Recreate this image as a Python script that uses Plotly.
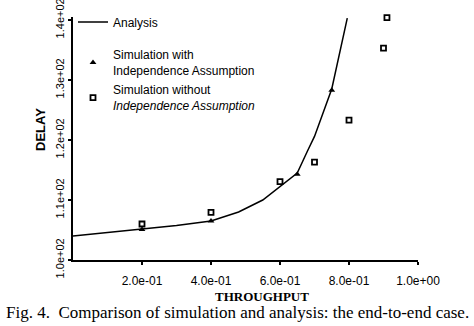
import plotly.graph_objects as go

# ---- data ----
analysis_x = [0.0, 0.1, 0.2, 0.3, 0.4, 0.48, 0.55, 0.6, 0.65, 0.68, 0.70, 0.75, 0.77, 0.795]
analysis_y = [104.0, 104.55, 105.1, 105.75, 106.5, 108.0, 110.0, 112.3, 114.5, 118.2, 120.6, 128.5, 133.5, 140.3]

indep_x = [0.2, 0.4, 0.65, 0.75]
indep_y = [105.1, 106.5, 114.3, 128.3]

noindep_x = [0.2, 0.4, 0.6, 0.7, 0.8, 0.9, 0.91]
noindep_y = [106.0, 107.95, 113.05, 116.3, 123.3, 135.3, 140.4]

x_tickvals = [0.2, 0.4, 0.6, 0.8, 1.0]
x_ticktext = ["2.0e-01", "4.0e-01", "6.0e-01", "8.0e-01", "1.0e+00"]
y_tickvals = [100, 110, 120, 130, 140]
y_ticktext = ["1.0e+02", "1.1e+02", "1.2e+02", "1.3e+02", "1.4e+02"]

legend_names = [
    "Analysis",
    "Simulation with<br>Independence Assumption",
    "Simulation without<br><i>Independence Assumption</i>",
]

W, H = 474, 326
L, R, T, B = 73, 56, 17, 66
YMAX = 140.5

fig = go.Figure()
fig.add_trace(go.Scatter(x=analysis_x, y=analysis_y, mode="lines",
                         line=dict(color="black", width=1.5),
                         name=legend_names[0], legend="legend", cliponaxis=False))
fig.add_trace(go.Scatter(x=indep_x, y=indep_y, mode="markers",
                         marker=dict(symbol="triangle-up", size=6, color="black"),
                         name=legend_names[1], legend="legend2", cliponaxis=False))
fig.add_trace(go.Scatter(x=noindep_x, y=noindep_y, mode="markers",
                         marker=dict(symbol="square-open", size=5, color="black",
                                     line=dict(width=1.8, color="black")),
                         name=legend_names[2], legend="legend3", cliponaxis=False))

ph = H - T - B
pw = W - L - R
def py(pix):
    return (H - B - pix) / ph
def px(pix):
    return (pix - L) / pw

leg_common = dict(xanchor="left", yanchor="middle", bgcolor="rgba(0,0,0,0)",
                  font=dict(family="Liberation Sans", size=12, color="black"),
                  borderwidth=0)
lx = px(73)

fig.update_layout(
    width=W, height=H,
    margin=dict(l=L, r=R, t=T, b=B, autoexpand=False),
    paper_bgcolor="white", plot_bgcolor="white",
    showlegend=True,
    legend=dict(x=lx, y=py(22), **leg_common),
    legend2=dict(x=lx, y=py(63), **leg_common),
    legend3=dict(x=lx, y=py(98), **leg_common),
    xaxis=dict(range=[0, 1.0], showgrid=False, zeroline=False,
               showline=True, linecolor="black", linewidth=2,
               ticks="outside", ticklen=3, tickwidth=1.5, tickcolor="black",
               ticklabelstandoff=6, ticklabeloverflow="allow",
               tickvals=x_tickvals, ticktext=x_ticktext,
               tickfont=dict(family="Liberation Sans", size=12, color="black")),
    yaxis=dict(range=[100, YMAX], showgrid=False, zeroline=False,
               showline=True, linecolor="black", linewidth=2,
               ticks="outside", ticklen=3, tickwidth=1.5, tickcolor="black",
               ticklabeloverflow="allow",
               tickvals=y_tickvals, ticktext=y_ticktext, tickangle=-90,
               tickfont=dict(family="Liberation Sans", size=11, color="black")),
    annotations=[
        dict(text="<b>DELAY</b>", xref="paper", yref="paper",
             x=px(40), y=py(130), xanchor="center", yanchor="middle",
             textangle=-90, showarrow=False,
             font=dict(family="Liberation Sans", size=13, color="black")),
        dict(text="<b>THROUGHPUT</b>", xref="paper", yref="paper",
             x=px(262), y=py(296), xanchor="center", yanchor="middle",
             showarrow=False,
             font=dict(family="Liberation Serif", size=13, color="black")),
        dict(text="Fig. 4.  Comparison of simulation and analysis: the end-to-end case.",
             xref="paper", yref="paper", x=px(237.5), y=py(312),
             xanchor="center", yanchor="middle", showarrow=False,
             font=dict(family="Liberation Serif", size=17, color="black")),
    ],
)

fig.write_html("out.html")
